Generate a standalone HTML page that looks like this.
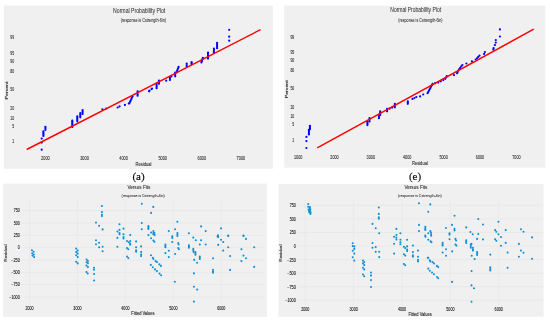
<!DOCTYPE html>
<html lang="en">
<head>
<meta charset="utf-8">
<title>Normal Probability Plot and Versus Fits</title>
<style>
html,body{margin:0;padding:0;background:#ffffff;}
body{width:550px;height:323px;overflow:hidden;font-family:"Liberation Sans",sans-serif;}
svg{display:block;}
</style>
</head>
<body>
<svg width="550" height="323" viewBox="0 0 550 323">
<defs><filter id="soft" x="-2%" y="-2%" width="104%" height="104%"><feGaussianBlur stdDeviation="0.4"/></filter></defs>
<rect x="0" y="0" width="550" height="323" fill="#ffffff"/>
<g filter="url(#soft)">
<rect x="-5" y="-5" width="560" height="333" fill="#ffffff"/>
<rect x="3.8" y="5.6" width="269.10" height="163.20" fill="#f0f0f0"/>
<rect x="284.2" y="5.6" width="261.00" height="162.10" fill="#f0f0f0"/>
<rect x="3.1" y="183.6" width="263.90" height="133.30" fill="#f0f0f0"/>
<rect x="278.4" y="184.0" width="265.20" height="132.80" fill="#f0f0f0"/>
<text x="139.20" y="12.50" font-size="7.0" text-anchor="middle" fill="#303030" font-family='"Liberation Sans", sans-serif' textLength="52.20" lengthAdjust="spacingAndGlyphs" stroke="#303030" stroke-width="0.04" >Normal Probability Plot</text>
<text x="143.40" y="22.30" font-size="4.5" text-anchor="middle" fill="#2c2c2c" font-family='"Liberation Sans", sans-serif' textLength="45.20" lengthAdjust="spacingAndGlyphs" stroke="#2c2c2c" stroke-width="0.05" >(response is Cstrength-6in)</text>
<text x="14.10" y="39.40" font-size="4.9" text-anchor="end" fill="#303030" font-family='"Liberation Sans", sans-serif' textLength="3.90" lengthAdjust="spacingAndGlyphs" stroke="#303030" stroke-width="0.1" >99</text>
<text x="14.10" y="54.60" font-size="4.9" text-anchor="end" fill="#303030" font-family='"Liberation Sans", sans-serif' textLength="3.90" lengthAdjust="spacingAndGlyphs" stroke="#303030" stroke-width="0.1" >95</text>
<text x="14.10" y="62.70" font-size="4.9" text-anchor="end" fill="#303030" font-family='"Liberation Sans", sans-serif' textLength="3.90" lengthAdjust="spacingAndGlyphs" stroke="#303030" stroke-width="0.1" >90</text>
<text x="14.10" y="72.50" font-size="4.9" text-anchor="end" fill="#303030" font-family='"Liberation Sans", sans-serif' textLength="3.90" lengthAdjust="spacingAndGlyphs" stroke="#303030" stroke-width="0.1" >80</text>
<text x="14.10" y="91.20" font-size="4.9" text-anchor="end" fill="#303030" font-family='"Liberation Sans", sans-serif' textLength="3.90" lengthAdjust="spacingAndGlyphs" stroke="#303030" stroke-width="0.1" >50</text>
<text x="14.10" y="109.90" font-size="4.9" text-anchor="end" fill="#303030" font-family='"Liberation Sans", sans-serif' textLength="3.90" lengthAdjust="spacingAndGlyphs" stroke="#303030" stroke-width="0.1" >20</text>
<text x="14.10" y="119.70" font-size="4.9" text-anchor="end" fill="#303030" font-family='"Liberation Sans", sans-serif' textLength="3.90" lengthAdjust="spacingAndGlyphs" stroke="#303030" stroke-width="0.1" >10</text>
<text x="14.10" y="127.80" font-size="4.9" text-anchor="end" fill="#303030" font-family='"Liberation Sans", sans-serif' textLength="1.95" lengthAdjust="spacingAndGlyphs" stroke="#303030" stroke-width="0.1" >5</text>
<text x="14.10" y="143.00" font-size="4.9" text-anchor="end" fill="#303030" font-family='"Liberation Sans", sans-serif' textLength="1.95" lengthAdjust="spacingAndGlyphs" stroke="#303030" stroke-width="0.1" >1</text>
<text x="45.40" y="160.30" font-size="4.9" text-anchor="middle" fill="#303030" font-family='"Liberation Sans", sans-serif' textLength="8.60" lengthAdjust="spacingAndGlyphs" stroke="#303030" stroke-width="0.1" >2000</text>
<text x="84.50" y="160.30" font-size="4.9" text-anchor="middle" fill="#303030" font-family='"Liberation Sans", sans-serif' textLength="8.60" lengthAdjust="spacingAndGlyphs" stroke="#303030" stroke-width="0.1" >3000</text>
<text x="123.60" y="160.30" font-size="4.9" text-anchor="middle" fill="#303030" font-family='"Liberation Sans", sans-serif' textLength="8.60" lengthAdjust="spacingAndGlyphs" stroke="#303030" stroke-width="0.1" >4000</text>
<text x="162.70" y="160.30" font-size="4.9" text-anchor="middle" fill="#303030" font-family='"Liberation Sans", sans-serif' textLength="8.60" lengthAdjust="spacingAndGlyphs" stroke="#303030" stroke-width="0.1" >5000</text>
<text x="201.80" y="160.30" font-size="4.9" text-anchor="middle" fill="#303030" font-family='"Liberation Sans", sans-serif' textLength="8.60" lengthAdjust="spacingAndGlyphs" stroke="#303030" stroke-width="0.1" >6000</text>
<text x="240.90" y="160.30" font-size="4.9" text-anchor="middle" fill="#303030" font-family='"Liberation Sans", sans-serif' textLength="8.60" lengthAdjust="spacingAndGlyphs" stroke="#303030" stroke-width="0.1" >7000</text>
<text x="143.50" y="165.80" font-size="4.9" text-anchor="middle" fill="#303030" font-family='"Liberation Sans", sans-serif' textLength="16.00" lengthAdjust="spacingAndGlyphs" stroke="#303030" stroke-width="0.1" >Residual</text>
<text x="7.80" y="90.50" font-size="4.0" text-anchor="middle" fill="#262626" font-family='"Liberation Sans", sans-serif' textLength="17.80" lengthAdjust="spacingAndGlyphs" transform="rotate(-90 7.80 90.50)" stroke="#262626" stroke-width="0.12" >Percent</text>
<circle cx="41.70" cy="149.70" r="1.1" fill="#0000ff"/>
<circle cx="41.70" cy="142.60" r="1.1" fill="#0000ff"/>
<circle cx="41.70" cy="138.60" r="1.1" fill="#0000ff"/>
<circle cx="43.40" cy="136.00" r="1.1" fill="#0000ff"/>
<circle cx="43.40" cy="134.82" r="1.1" fill="#0000ff"/>
<circle cx="43.40" cy="133.65" r="1.1" fill="#0000ff"/>
<circle cx="43.40" cy="132.48" r="1.1" fill="#0000ff"/>
<circle cx="43.40" cy="131.30" r="1.1" fill="#0000ff"/>
<circle cx="45.40" cy="130.00" r="1.1" fill="#0000ff"/>
<circle cx="45.40" cy="128.45" r="1.1" fill="#0000ff"/>
<circle cx="45.40" cy="126.90" r="1.1" fill="#0000ff"/>
<circle cx="72.30" cy="127.00" r="1.1" fill="#0000ff"/>
<circle cx="72.30" cy="125.74" r="1.1" fill="#0000ff"/>
<circle cx="72.30" cy="124.48" r="1.1" fill="#0000ff"/>
<circle cx="72.30" cy="123.22" r="1.1" fill="#0000ff"/>
<circle cx="72.30" cy="121.96" r="1.1" fill="#0000ff"/>
<circle cx="72.30" cy="120.70" r="1.1" fill="#0000ff"/>
<circle cx="77.30" cy="121.30" r="1.1" fill="#0000ff"/>
<circle cx="77.30" cy="120.05" r="1.1" fill="#0000ff"/>
<circle cx="77.30" cy="118.80" r="1.1" fill="#0000ff"/>
<circle cx="77.30" cy="117.55" r="1.1" fill="#0000ff"/>
<circle cx="77.30" cy="116.30" r="1.1" fill="#0000ff"/>
<circle cx="80.30" cy="117.30" r="1.1" fill="#0000ff"/>
<circle cx="80.30" cy="115.93" r="1.1" fill="#0000ff"/>
<circle cx="80.30" cy="114.57" r="1.1" fill="#0000ff"/>
<circle cx="80.30" cy="113.20" r="1.1" fill="#0000ff"/>
<circle cx="82.60" cy="114.00" r="1.1" fill="#0000ff"/>
<circle cx="82.60" cy="112.67" r="1.1" fill="#0000ff"/>
<circle cx="82.60" cy="111.33" r="1.1" fill="#0000ff"/>
<circle cx="82.60" cy="110.00" r="1.1" fill="#0000ff"/>
<circle cx="102.40" cy="109.40" r="1.1" fill="#0000ff"/>
<circle cx="106.20" cy="108.50" r="1.1" fill="#0000ff"/>
<circle cx="117.70" cy="107.50" r="1.1" fill="#0000ff"/>
<circle cx="119.60" cy="106.30" r="1.1" fill="#0000ff"/>
<circle cx="124.90" cy="104.90" r="1.1" fill="#0000ff"/>
<circle cx="128.80" cy="103.50" r="1.1" fill="#0000ff"/>
<circle cx="129.40" cy="103.30" r="1.1" fill="#0000ff"/>
<circle cx="130.02" cy="101.92" r="1.1" fill="#0000ff"/>
<circle cx="130.64" cy="100.54" r="1.1" fill="#0000ff"/>
<circle cx="131.26" cy="99.16" r="1.1" fill="#0000ff"/>
<circle cx="131.88" cy="97.78" r="1.1" fill="#0000ff"/>
<circle cx="132.50" cy="96.40" r="1.1" fill="#0000ff"/>
<circle cx="137.60" cy="95.70" r="1.1" fill="#0000ff"/>
<circle cx="137.60" cy="94.23" r="1.1" fill="#0000ff"/>
<circle cx="137.60" cy="92.77" r="1.1" fill="#0000ff"/>
<circle cx="137.60" cy="91.30" r="1.1" fill="#0000ff"/>
<circle cx="149.10" cy="91.30" r="1.1" fill="#0000ff"/>
<circle cx="149.50" cy="90.60" r="1.1" fill="#0000ff"/>
<circle cx="151.60" cy="89.10" r="1.1" fill="#0000ff"/>
<circle cx="152.00" cy="88.50" r="1.1" fill="#0000ff"/>
<circle cx="156.60" cy="88.20" r="1.1" fill="#0000ff"/>
<circle cx="156.60" cy="86.73" r="1.1" fill="#0000ff"/>
<circle cx="156.60" cy="85.27" r="1.1" fill="#0000ff"/>
<circle cx="156.60" cy="83.80" r="1.1" fill="#0000ff"/>
<circle cx="158.90" cy="83.80" r="1.1" fill="#0000ff"/>
<circle cx="158.90" cy="82.25" r="1.1" fill="#0000ff"/>
<circle cx="158.90" cy="80.70" r="1.1" fill="#0000ff"/>
<circle cx="166.20" cy="80.70" r="1.1" fill="#0000ff"/>
<circle cx="169.90" cy="80.00" r="1.1" fill="#0000ff"/>
<circle cx="169.90" cy="78.75" r="1.1" fill="#0000ff"/>
<circle cx="169.90" cy="77.50" r="1.1" fill="#0000ff"/>
<circle cx="171.40" cy="76.50" r="1.1" fill="#0000ff"/>
<circle cx="175.20" cy="76.30" r="1.1" fill="#0000ff"/>
<circle cx="175.20" cy="75.03" r="1.1" fill="#0000ff"/>
<circle cx="175.20" cy="73.77" r="1.1" fill="#0000ff"/>
<circle cx="175.20" cy="72.50" r="1.1" fill="#0000ff"/>
<circle cx="176.60" cy="72.30" r="1.1" fill="#0000ff"/>
<circle cx="177.10" cy="70.95" r="1.1" fill="#0000ff"/>
<circle cx="177.60" cy="69.60" r="1.1" fill="#0000ff"/>
<circle cx="178.10" cy="68.25" r="1.1" fill="#0000ff"/>
<circle cx="178.60" cy="66.90" r="1.1" fill="#0000ff"/>
<circle cx="186.70" cy="66.40" r="1.1" fill="#0000ff"/>
<circle cx="186.70" cy="65.00" r="1.1" fill="#0000ff"/>
<circle cx="186.70" cy="63.60" r="1.1" fill="#0000ff"/>
<circle cx="191.60" cy="64.10" r="1.1" fill="#0000ff"/>
<circle cx="191.60" cy="63.05" r="1.1" fill="#0000ff"/>
<circle cx="191.60" cy="62.00" r="1.1" fill="#0000ff"/>
<circle cx="201.40" cy="62.40" r="1.1" fill="#0000ff"/>
<circle cx="201.78" cy="61.25" r="1.1" fill="#0000ff"/>
<circle cx="202.15" cy="60.10" r="1.1" fill="#0000ff"/>
<circle cx="202.53" cy="58.95" r="1.1" fill="#0000ff"/>
<circle cx="202.90" cy="57.80" r="1.1" fill="#0000ff"/>
<circle cx="208.00" cy="58.60" r="1.1" fill="#0000ff"/>
<circle cx="208.00" cy="57.40" r="1.1" fill="#0000ff"/>
<circle cx="208.00" cy="56.20" r="1.1" fill="#0000ff"/>
<circle cx="208.00" cy="55.00" r="1.1" fill="#0000ff"/>
<circle cx="208.00" cy="53.80" r="1.1" fill="#0000ff"/>
<circle cx="208.00" cy="52.60" r="1.1" fill="#0000ff"/>
<circle cx="213.90" cy="52.60" r="1.1" fill="#0000ff"/>
<circle cx="213.90" cy="51.27" r="1.1" fill="#0000ff"/>
<circle cx="213.90" cy="49.93" r="1.1" fill="#0000ff"/>
<circle cx="213.90" cy="48.60" r="1.1" fill="#0000ff"/>
<circle cx="217.10" cy="48.20" r="1.1" fill="#0000ff"/>
<circle cx="217.10" cy="46.85" r="1.1" fill="#0000ff"/>
<circle cx="217.10" cy="45.50" r="1.1" fill="#0000ff"/>
<circle cx="217.10" cy="44.15" r="1.1" fill="#0000ff"/>
<circle cx="217.10" cy="42.80" r="1.1" fill="#0000ff"/>
<circle cx="229.20" cy="40.70" r="1.1" fill="#0000ff"/>
<circle cx="229.20" cy="36.70" r="1.1" fill="#0000ff"/>
<circle cx="229.20" cy="29.80" r="1.1" fill="#0000ff"/>
<line x1="26.7" y1="149.5" x2="260.5" y2="29.7" stroke="#ff0000" stroke-width="1.45"/>
<text x="415.70" y="12.20" font-size="7.0" text-anchor="middle" fill="#303030" font-family='"Liberation Sans", sans-serif' textLength="50.80" lengthAdjust="spacingAndGlyphs" stroke="#303030" stroke-width="0.04" >Normal Probability Plot</text>
<text x="420.40" y="21.70" font-size="4.5" text-anchor="middle" fill="#2c2c2c" font-family='"Liberation Sans", sans-serif' textLength="44.30" lengthAdjust="spacingAndGlyphs" stroke="#2c2c2c" stroke-width="0.05" >(response is Cstrength-6in)</text>
<text x="294.30" y="39.00" font-size="4.9" text-anchor="end" fill="#303030" font-family='"Liberation Sans", sans-serif' textLength="3.90" lengthAdjust="spacingAndGlyphs" stroke="#303030" stroke-width="0.1" >99</text>
<text x="294.30" y="53.90" font-size="4.9" text-anchor="end" fill="#303030" font-family='"Liberation Sans", sans-serif' textLength="3.90" lengthAdjust="spacingAndGlyphs" stroke="#303030" stroke-width="0.1" >95</text>
<text x="294.30" y="61.90" font-size="4.9" text-anchor="end" fill="#303030" font-family='"Liberation Sans", sans-serif' textLength="3.90" lengthAdjust="spacingAndGlyphs" stroke="#303030" stroke-width="0.1" >90</text>
<text x="294.30" y="71.60" font-size="4.9" text-anchor="end" fill="#303030" font-family='"Liberation Sans", sans-serif' textLength="3.90" lengthAdjust="spacingAndGlyphs" stroke="#303030" stroke-width="0.1" >80</text>
<text x="294.30" y="90.00" font-size="4.9" text-anchor="end" fill="#303030" font-family='"Liberation Sans", sans-serif' textLength="3.90" lengthAdjust="spacingAndGlyphs" stroke="#303030" stroke-width="0.1" >50</text>
<text x="294.30" y="108.60" font-size="4.9" text-anchor="end" fill="#303030" font-family='"Liberation Sans", sans-serif' textLength="3.90" lengthAdjust="spacingAndGlyphs" stroke="#303030" stroke-width="0.1" >20</text>
<text x="294.30" y="118.20" font-size="4.9" text-anchor="end" fill="#303030" font-family='"Liberation Sans", sans-serif' textLength="3.90" lengthAdjust="spacingAndGlyphs" stroke="#303030" stroke-width="0.1" >10</text>
<text x="294.30" y="126.30" font-size="4.9" text-anchor="end" fill="#303030" font-family='"Liberation Sans", sans-serif' textLength="1.95" lengthAdjust="spacingAndGlyphs" stroke="#303030" stroke-width="0.1" >5</text>
<text x="294.30" y="141.50" font-size="4.9" text-anchor="end" fill="#303030" font-family='"Liberation Sans", sans-serif' textLength="1.95" lengthAdjust="spacingAndGlyphs" stroke="#303030" stroke-width="0.1" >1</text>
<text x="298.20" y="159.30" font-size="4.9" text-anchor="middle" fill="#303030" font-family='"Liberation Sans", sans-serif' textLength="8.40" lengthAdjust="spacingAndGlyphs" stroke="#303030" stroke-width="0.1" >1000</text>
<text x="334.50" y="159.30" font-size="4.9" text-anchor="middle" fill="#303030" font-family='"Liberation Sans", sans-serif' textLength="8.40" lengthAdjust="spacingAndGlyphs" stroke="#303030" stroke-width="0.1" >2000</text>
<text x="370.80" y="159.30" font-size="4.9" text-anchor="middle" fill="#303030" font-family='"Liberation Sans", sans-serif' textLength="8.40" lengthAdjust="spacingAndGlyphs" stroke="#303030" stroke-width="0.1" >3000</text>
<text x="407.20" y="159.30" font-size="4.9" text-anchor="middle" fill="#303030" font-family='"Liberation Sans", sans-serif' textLength="8.40" lengthAdjust="spacingAndGlyphs" stroke="#303030" stroke-width="0.1" >4000</text>
<text x="443.60" y="159.30" font-size="4.9" text-anchor="middle" fill="#303030" font-family='"Liberation Sans", sans-serif' textLength="8.40" lengthAdjust="spacingAndGlyphs" stroke="#303030" stroke-width="0.1" >5000</text>
<text x="480.00" y="159.30" font-size="4.9" text-anchor="middle" fill="#303030" font-family='"Liberation Sans", sans-serif' textLength="8.40" lengthAdjust="spacingAndGlyphs" stroke="#303030" stroke-width="0.1" >6000</text>
<text x="516.40" y="159.30" font-size="4.9" text-anchor="middle" fill="#303030" font-family='"Liberation Sans", sans-serif' textLength="8.40" lengthAdjust="spacingAndGlyphs" stroke="#303030" stroke-width="0.1" >7000</text>
<text x="419.90" y="164.50" font-size="4.9" text-anchor="middle" fill="#303030" font-family='"Liberation Sans", sans-serif' textLength="15.80" lengthAdjust="spacingAndGlyphs" stroke="#303030" stroke-width="0.1" >Residual</text>
<text x="288.30" y="89.30" font-size="4.0" text-anchor="middle" fill="#262626" font-family='"Liberation Sans", sans-serif' textLength="17.80" lengthAdjust="spacingAndGlyphs" transform="rotate(-90 288.30 89.30)" stroke="#262626" stroke-width="0.12" >Percent</text>
<circle cx="306.40" cy="148.00" r="1.1" fill="#0000ff"/>
<circle cx="306.40" cy="141.10" r="1.1" fill="#0000ff"/>
<circle cx="306.40" cy="136.90" r="1.1" fill="#0000ff"/>
<circle cx="308.90" cy="134.40" r="1.1" fill="#0000ff"/>
<circle cx="308.90" cy="133.25" r="1.1" fill="#0000ff"/>
<circle cx="308.90" cy="132.10" r="1.1" fill="#0000ff"/>
<circle cx="308.90" cy="130.95" r="1.1" fill="#0000ff"/>
<circle cx="308.90" cy="129.80" r="1.1" fill="#0000ff"/>
<circle cx="309.90" cy="129.20" r="1.1" fill="#0000ff"/>
<circle cx="309.90" cy="128.07" r="1.1" fill="#0000ff"/>
<circle cx="309.90" cy="126.93" r="1.1" fill="#0000ff"/>
<circle cx="309.90" cy="125.80" r="1.1" fill="#0000ff"/>
<circle cx="367.40" cy="125.10" r="1.1" fill="#0000ff"/>
<circle cx="367.40" cy="123.87" r="1.1" fill="#0000ff"/>
<circle cx="367.40" cy="122.63" r="1.1" fill="#0000ff"/>
<circle cx="367.40" cy="121.40" r="1.1" fill="#0000ff"/>
<circle cx="369.50" cy="121.40" r="1.1" fill="#0000ff"/>
<circle cx="369.50" cy="119.80" r="1.1" fill="#0000ff"/>
<circle cx="369.50" cy="118.20" r="1.1" fill="#0000ff"/>
<circle cx="378.90" cy="118.20" r="1.1" fill="#0000ff"/>
<circle cx="378.90" cy="116.65" r="1.1" fill="#0000ff"/>
<circle cx="378.90" cy="115.10" r="1.1" fill="#0000ff"/>
<circle cx="380.20" cy="115.10" r="1.1" fill="#0000ff"/>
<circle cx="380.20" cy="113.83" r="1.1" fill="#0000ff"/>
<circle cx="380.20" cy="112.57" r="1.1" fill="#0000ff"/>
<circle cx="380.20" cy="111.30" r="1.1" fill="#0000ff"/>
<circle cx="387.10" cy="111.30" r="1.1" fill="#0000ff"/>
<circle cx="387.10" cy="110.05" r="1.1" fill="#0000ff"/>
<circle cx="387.10" cy="108.80" r="1.1" fill="#0000ff"/>
<circle cx="389.60" cy="108.60" r="1.1" fill="#0000ff"/>
<circle cx="392.10" cy="107.60" r="1.1" fill="#0000ff"/>
<circle cx="394.80" cy="107.30" r="1.1" fill="#0000ff"/>
<circle cx="394.80" cy="106.13" r="1.1" fill="#0000ff"/>
<circle cx="394.80" cy="104.97" r="1.1" fill="#0000ff"/>
<circle cx="394.80" cy="103.80" r="1.1" fill="#0000ff"/>
<circle cx="407.80" cy="103.80" r="1.1" fill="#0000ff"/>
<circle cx="407.80" cy="102.55" r="1.1" fill="#0000ff"/>
<circle cx="407.80" cy="101.30" r="1.1" fill="#0000ff"/>
<circle cx="412.50" cy="98.90" r="1.1" fill="#0000ff"/>
<circle cx="414.40" cy="98.00" r="1.1" fill="#0000ff"/>
<circle cx="416.30" cy="97.00" r="1.1" fill="#0000ff"/>
<circle cx="420.10" cy="96.40" r="1.1" fill="#0000ff"/>
<circle cx="423.20" cy="94.50" r="1.1" fill="#0000ff"/>
<circle cx="427.60" cy="93.20" r="1.1" fill="#0000ff"/>
<circle cx="428.31" cy="91.86" r="1.1" fill="#0000ff"/>
<circle cx="429.03" cy="90.51" r="1.1" fill="#0000ff"/>
<circle cx="429.74" cy="89.17" r="1.1" fill="#0000ff"/>
<circle cx="430.46" cy="87.83" r="1.1" fill="#0000ff"/>
<circle cx="431.17" cy="86.49" r="1.1" fill="#0000ff"/>
<circle cx="431.89" cy="85.14" r="1.1" fill="#0000ff"/>
<circle cx="432.60" cy="83.80" r="1.1" fill="#0000ff"/>
<circle cx="435.10" cy="83.20" r="1.1" fill="#0000ff"/>
<circle cx="438.30" cy="82.60" r="1.1" fill="#0000ff"/>
<circle cx="440.80" cy="81.30" r="1.1" fill="#0000ff"/>
<circle cx="443.30" cy="80.10" r="1.1" fill="#0000ff"/>
<circle cx="445.20" cy="78.80" r="1.1" fill="#0000ff"/>
<circle cx="446.20" cy="77.40" r="1.1" fill="#0000ff"/>
<circle cx="446.80" cy="76.10" r="1.1" fill="#0000ff"/>
<circle cx="454.00" cy="75.10" r="1.1" fill="#0000ff"/>
<circle cx="457.10" cy="73.20" r="1.1" fill="#0000ff"/>
<circle cx="457.70" cy="71.90" r="1.1" fill="#0000ff"/>
<circle cx="459.00" cy="69.40" r="1.1" fill="#0000ff"/>
<circle cx="460.13" cy="67.93" r="1.1" fill="#0000ff"/>
<circle cx="461.27" cy="66.47" r="1.1" fill="#0000ff"/>
<circle cx="462.40" cy="65.00" r="1.1" fill="#0000ff"/>
<circle cx="466.40" cy="63.50" r="1.1" fill="#0000ff"/>
<circle cx="471.90" cy="61.40" r="1.1" fill="#0000ff"/>
<circle cx="475.70" cy="59.50" r="1.1" fill="#0000ff"/>
<circle cx="476.97" cy="58.23" r="1.1" fill="#0000ff"/>
<circle cx="478.23" cy="56.97" r="1.1" fill="#0000ff"/>
<circle cx="479.50" cy="55.70" r="1.1" fill="#0000ff"/>
<circle cx="484.10" cy="53.90" r="1.1" fill="#0000ff"/>
<circle cx="484.90" cy="52.00" r="1.1" fill="#0000ff"/>
<circle cx="493.30" cy="49.50" r="1.1" fill="#0000ff"/>
<circle cx="493.60" cy="48.20" r="1.1" fill="#0000ff"/>
<circle cx="494.90" cy="45.10" r="1.1" fill="#0000ff"/>
<circle cx="495.80" cy="42.60" r="1.1" fill="#0000ff"/>
<circle cx="495.80" cy="40.10" r="1.1" fill="#0000ff"/>
<circle cx="499.90" cy="36.50" r="1.1" fill="#0000ff"/>
<circle cx="499.90" cy="29.40" r="1.1" fill="#0000ff"/>
<line x1="317.2" y1="147.8" x2="533.7" y2="29.2" stroke="#ff0000" stroke-width="1.45"/>
<line x1="21.0" y1="210.6" x2="264.8" y2="210.6" stroke="#e8e8e8" stroke-width="0.9"/>
<line x1="21.0" y1="222.95" x2="264.8" y2="222.95" stroke="#e8e8e8" stroke-width="0.9"/>
<line x1="21.0" y1="235.3" x2="264.8" y2="235.3" stroke="#e8e8e8" stroke-width="0.9"/>
<line x1="21.0" y1="247.65" x2="264.8" y2="247.65" stroke="#e8e8e8" stroke-width="0.9"/>
<line x1="21.0" y1="260.0" x2="264.8" y2="260.0" stroke="#e8e8e8" stroke-width="0.9"/>
<line x1="21.0" y1="272.3" x2="264.8" y2="272.3" stroke="#e8e8e8" stroke-width="0.9"/>
<line x1="21.0" y1="284.6" x2="264.8" y2="284.6" stroke="#e8e8e8" stroke-width="0.9"/>
<line x1="21.0" y1="297.0" x2="264.8" y2="297.0" stroke="#e8e8e8" stroke-width="0.9"/>
<line x1="29.5" y1="199.5" x2="29.5" y2="304.3" stroke="#e8e8e8" stroke-width="0.9"/>
<line x1="77.45" y1="199.5" x2="77.45" y2="304.3" stroke="#e8e8e8" stroke-width="0.9"/>
<line x1="125.4" y1="199.5" x2="125.4" y2="304.3" stroke="#e8e8e8" stroke-width="0.9"/>
<line x1="173.4" y1="199.5" x2="173.4" y2="304.3" stroke="#e8e8e8" stroke-width="0.9"/>
<line x1="221.3" y1="199.5" x2="221.3" y2="304.3" stroke="#e8e8e8" stroke-width="0.9"/>
<text x="138.90" y="189.40" font-size="5.8" text-anchor="middle" fill="#303030" font-family='"Liberation Sans", sans-serif' textLength="23.00" lengthAdjust="spacingAndGlyphs" stroke="#303030" stroke-width="0.1" >Versus Fits</text>
<text x="143.10" y="197.30" font-size="4.0" text-anchor="middle" fill="#2c2c2c" font-family='"Liberation Sans", sans-serif' textLength="43.20" lengthAdjust="spacingAndGlyphs" stroke="#2c2c2c" stroke-width="0.05" >(response is Cstrength-6in)</text>
<text x="19.80" y="212.30" font-size="4.9" text-anchor="end" fill="#222" font-family='"Liberation Sans", sans-serif' textLength="6.00" lengthAdjust="spacingAndGlyphs" stroke="#222" stroke-width="0.12" >750</text>
<text x="19.80" y="224.65" font-size="4.9" text-anchor="end" fill="#222" font-family='"Liberation Sans", sans-serif' textLength="6.00" lengthAdjust="spacingAndGlyphs" stroke="#222" stroke-width="0.12" >500</text>
<text x="19.80" y="237.00" font-size="4.9" text-anchor="end" fill="#222" font-family='"Liberation Sans", sans-serif' textLength="6.00" lengthAdjust="spacingAndGlyphs" stroke="#222" stroke-width="0.12" >250</text>
<text x="19.80" y="249.35" font-size="4.9" text-anchor="end" fill="#222" font-family='"Liberation Sans", sans-serif' textLength="2.00" lengthAdjust="spacingAndGlyphs" stroke="#222" stroke-width="0.12" >0</text>
<text x="19.80" y="261.70" font-size="4.9" text-anchor="end" fill="#222" font-family='"Liberation Sans", sans-serif' textLength="8.60" lengthAdjust="spacingAndGlyphs" stroke="#222" stroke-width="0.12" >−250</text>
<text x="19.80" y="274.00" font-size="4.9" text-anchor="end" fill="#222" font-family='"Liberation Sans", sans-serif' textLength="8.60" lengthAdjust="spacingAndGlyphs" stroke="#222" stroke-width="0.12" >−500</text>
<text x="19.80" y="286.30" font-size="4.9" text-anchor="end" fill="#222" font-family='"Liberation Sans", sans-serif' textLength="8.60" lengthAdjust="spacingAndGlyphs" stroke="#222" stroke-width="0.12" >−750</text>
<text x="19.80" y="298.70" font-size="4.9" text-anchor="end" fill="#222" font-family='"Liberation Sans", sans-serif' textLength="10.60" lengthAdjust="spacingAndGlyphs" stroke="#222" stroke-width="0.12" >−1000</text>
<text x="29.50" y="310.40" font-size="4.9" text-anchor="middle" fill="#222" font-family='"Liberation Sans", sans-serif' textLength="8.20" lengthAdjust="spacingAndGlyphs" stroke="#222" stroke-width="0.12" >2000</text>
<text x="77.45" y="310.40" font-size="4.9" text-anchor="middle" fill="#222" font-family='"Liberation Sans", sans-serif' textLength="8.20" lengthAdjust="spacingAndGlyphs" stroke="#222" stroke-width="0.12" >3000</text>
<text x="125.40" y="310.40" font-size="4.9" text-anchor="middle" fill="#222" font-family='"Liberation Sans", sans-serif' textLength="8.20" lengthAdjust="spacingAndGlyphs" stroke="#222" stroke-width="0.12" >4000</text>
<text x="173.40" y="310.40" font-size="4.9" text-anchor="middle" fill="#222" font-family='"Liberation Sans", sans-serif' textLength="8.20" lengthAdjust="spacingAndGlyphs" stroke="#222" stroke-width="0.12" >5000</text>
<text x="221.30" y="310.40" font-size="4.9" text-anchor="middle" fill="#222" font-family='"Liberation Sans", sans-serif' textLength="8.20" lengthAdjust="spacingAndGlyphs" stroke="#222" stroke-width="0.12" >6000</text>
<text x="142.90" y="315.40" font-size="4.9" text-anchor="middle" fill="#222" font-family='"Liberation Sans", sans-serif' textLength="23.20" lengthAdjust="spacingAndGlyphs" stroke="#222" stroke-width="0.1" >Fitted Values</text>
<text x="6.90" y="253.00" font-size="4.3" text-anchor="middle" fill="#262626" font-family='"Liberation Sans", sans-serif' textLength="16.80" lengthAdjust="spacingAndGlyphs" transform="rotate(-90 6.90 253.00)" stroke="#262626" stroke-width="0.1" >Residual</text>
<circle cx="101.90" cy="206.00" r="1.03" fill="#0f8fd8"/>
<circle cx="101.90" cy="212.10" r="1.03" fill="#0f8fd8"/>
<circle cx="101.90" cy="214.80" r="1.03" fill="#0f8fd8"/>
<circle cx="101.90" cy="216.10" r="1.03" fill="#0f8fd8"/>
<circle cx="96.00" cy="222.60" r="1.03" fill="#0f8fd8"/>
<circle cx="99.10" cy="225.70" r="1.03" fill="#0f8fd8"/>
<circle cx="102.60" cy="229.40" r="1.03" fill="#0f8fd8"/>
<circle cx="119.50" cy="224.20" r="1.03" fill="#0f8fd8"/>
<circle cx="119.50" cy="229.90" r="1.03" fill="#0f8fd8"/>
<circle cx="117.40" cy="231.50" r="1.03" fill="#0f8fd8"/>
<circle cx="119.50" cy="233.00" r="1.03" fill="#0f8fd8"/>
<circle cx="119.50" cy="234.30" r="1.03" fill="#0f8fd8"/>
<circle cx="123.50" cy="228.60" r="1.03" fill="#0f8fd8"/>
<circle cx="123.50" cy="234.30" r="1.03" fill="#0f8fd8"/>
<circle cx="130.20" cy="235.10" r="1.03" fill="#0f8fd8"/>
<circle cx="141.80" cy="203.70" r="1.03" fill="#0f8fd8"/>
<circle cx="153.30" cy="206.90" r="1.03" fill="#0f8fd8"/>
<circle cx="151.10" cy="212.90" r="1.03" fill="#0f8fd8"/>
<circle cx="141.80" cy="223.00" r="1.03" fill="#0f8fd8"/>
<circle cx="141.80" cy="229.20" r="1.03" fill="#0f8fd8"/>
<circle cx="148.40" cy="226.10" r="1.03" fill="#0f8fd8"/>
<circle cx="148.40" cy="227.40" r="1.03" fill="#0f8fd8"/>
<circle cx="148.40" cy="228.90" r="1.03" fill="#0f8fd8"/>
<circle cx="151.10" cy="232.60" r="1.03" fill="#0f8fd8"/>
<circle cx="153.40" cy="231.10" r="1.03" fill="#0f8fd8"/>
<circle cx="153.40" cy="233.00" r="1.03" fill="#0f8fd8"/>
<circle cx="153.40" cy="234.30" r="1.03" fill="#0f8fd8"/>
<circle cx="148.40" cy="235.10" r="1.03" fill="#0f8fd8"/>
<circle cx="154.40" cy="233.00" r="1.03" fill="#0f8fd8"/>
<circle cx="154.60" cy="235.10" r="1.03" fill="#0f8fd8"/>
<circle cx="177.40" cy="221.70" r="1.03" fill="#0f8fd8"/>
<circle cx="201.10" cy="226.40" r="1.03" fill="#0f8fd8"/>
<circle cx="175.10" cy="229.20" r="1.03" fill="#0f8fd8"/>
<circle cx="168.80" cy="231.10" r="1.03" fill="#0f8fd8"/>
<circle cx="205.70" cy="231.10" r="1.03" fill="#0f8fd8"/>
<circle cx="177.40" cy="233.00" r="1.03" fill="#0f8fd8"/>
<circle cx="177.40" cy="234.60" r="1.03" fill="#0f8fd8"/>
<circle cx="188.90" cy="233.30" r="1.03" fill="#0f8fd8"/>
<circle cx="218.00" cy="235.30" r="1.03" fill="#0f8fd8"/>
<circle cx="221.00" cy="228.40" r="1.03" fill="#0f8fd8"/>
<circle cx="228.20" cy="235.50" r="1.03" fill="#0f8fd8"/>
<circle cx="243.50" cy="235.50" r="1.03" fill="#0f8fd8"/>
<circle cx="31.90" cy="250.20" r="1.03" fill="#0f8fd8"/>
<circle cx="33.60" cy="251.80" r="1.03" fill="#0f8fd8"/>
<circle cx="32.20" cy="253.30" r="1.03" fill="#0f8fd8"/>
<circle cx="33.80" cy="254.60" r="1.03" fill="#0f8fd8"/>
<circle cx="32.50" cy="255.60" r="1.03" fill="#0f8fd8"/>
<circle cx="34.10" cy="257.10" r="1.03" fill="#0f8fd8"/>
<circle cx="76.20" cy="248.60" r="1.03" fill="#0f8fd8"/>
<circle cx="77.70" cy="250.60" r="1.03" fill="#0f8fd8"/>
<circle cx="76.20" cy="252.10" r="1.03" fill="#0f8fd8"/>
<circle cx="77.70" cy="253.60" r="1.03" fill="#0f8fd8"/>
<circle cx="76.20" cy="255.20" r="1.03" fill="#0f8fd8"/>
<circle cx="77.70" cy="257.10" r="1.03" fill="#0f8fd8"/>
<circle cx="76.20" cy="261.70" r="1.03" fill="#0f8fd8"/>
<circle cx="77.70" cy="263.40" r="1.03" fill="#0f8fd8"/>
<circle cx="86.60" cy="259.60" r="1.03" fill="#0f8fd8"/>
<circle cx="87.90" cy="261.00" r="1.03" fill="#0f8fd8"/>
<circle cx="86.60" cy="262.30" r="1.03" fill="#0f8fd8"/>
<circle cx="87.90" cy="263.30" r="1.03" fill="#0f8fd8"/>
<circle cx="86.40" cy="265.60" r="1.03" fill="#0f8fd8"/>
<circle cx="87.90" cy="267.10" r="1.03" fill="#0f8fd8"/>
<circle cx="86.50" cy="272.00" r="1.03" fill="#0f8fd8"/>
<circle cx="87.70" cy="273.50" r="1.03" fill="#0f8fd8"/>
<circle cx="94.00" cy="267.80" r="1.03" fill="#0f8fd8"/>
<circle cx="94.00" cy="269.70" r="1.03" fill="#0f8fd8"/>
<circle cx="94.10" cy="274.00" r="1.03" fill="#0f8fd8"/>
<circle cx="94.10" cy="280.50" r="1.03" fill="#0f8fd8"/>
<circle cx="117.40" cy="237.90" r="1.03" fill="#0f8fd8"/>
<circle cx="123.50" cy="237.00" r="1.03" fill="#0f8fd8"/>
<circle cx="123.50" cy="238.50" r="1.03" fill="#0f8fd8"/>
<circle cx="96.00" cy="240.20" r="1.03" fill="#0f8fd8"/>
<circle cx="99.10" cy="242.70" r="1.03" fill="#0f8fd8"/>
<circle cx="96.00" cy="244.30" r="1.03" fill="#0f8fd8"/>
<circle cx="99.10" cy="247.30" r="1.03" fill="#0f8fd8"/>
<circle cx="102.60" cy="246.80" r="1.03" fill="#0f8fd8"/>
<circle cx="102.60" cy="251.20" r="1.03" fill="#0f8fd8"/>
<circle cx="117.40" cy="246.80" r="1.03" fill="#0f8fd8"/>
<circle cx="127.00" cy="241.00" r="1.03" fill="#0f8fd8"/>
<circle cx="128.70" cy="242.30" r="1.03" fill="#0f8fd8"/>
<circle cx="130.20" cy="241.00" r="1.03" fill="#0f8fd8"/>
<circle cx="130.20" cy="243.50" r="1.03" fill="#0f8fd8"/>
<circle cx="130.20" cy="244.80" r="1.03" fill="#0f8fd8"/>
<circle cx="136.10" cy="241.40" r="1.03" fill="#0f8fd8"/>
<circle cx="127.00" cy="248.10" r="1.03" fill="#0f8fd8"/>
<circle cx="128.30" cy="249.30" r="1.03" fill="#0f8fd8"/>
<circle cx="136.10" cy="247.30" r="1.03" fill="#0f8fd8"/>
<circle cx="136.10" cy="250.20" r="1.03" fill="#0f8fd8"/>
<circle cx="136.10" cy="251.80" r="1.03" fill="#0f8fd8"/>
<circle cx="141.10" cy="246.40" r="1.03" fill="#0f8fd8"/>
<circle cx="141.10" cy="252.10" r="1.03" fill="#0f8fd8"/>
<circle cx="141.10" cy="254.60" r="1.03" fill="#0f8fd8"/>
<circle cx="141.10" cy="256.10" r="1.03" fill="#0f8fd8"/>
<circle cx="127.00" cy="256.50" r="1.03" fill="#0f8fd8"/>
<circle cx="128.30" cy="258.10" r="1.03" fill="#0f8fd8"/>
<circle cx="151.10" cy="238.30" r="1.03" fill="#0f8fd8"/>
<circle cx="153.40" cy="240.60" r="1.03" fill="#0f8fd8"/>
<circle cx="154.40" cy="241.80" r="1.03" fill="#0f8fd8"/>
<circle cx="151.00" cy="255.20" r="1.03" fill="#0f8fd8"/>
<circle cx="152.80" cy="257.70" r="1.03" fill="#0f8fd8"/>
<circle cx="153.50" cy="259.00" r="1.03" fill="#0f8fd8"/>
<circle cx="155.60" cy="261.10" r="1.03" fill="#0f8fd8"/>
<circle cx="156.90" cy="262.10" r="1.03" fill="#0f8fd8"/>
<circle cx="159.40" cy="264.40" r="1.03" fill="#0f8fd8"/>
<circle cx="161.00" cy="265.90" r="1.03" fill="#0f8fd8"/>
<circle cx="150.80" cy="264.90" r="1.03" fill="#0f8fd8"/>
<circle cx="152.80" cy="267.30" r="1.03" fill="#0f8fd8"/>
<circle cx="155.00" cy="269.40" r="1.03" fill="#0f8fd8"/>
<circle cx="156.90" cy="271.10" r="1.03" fill="#0f8fd8"/>
<circle cx="159.50" cy="273.60" r="1.03" fill="#0f8fd8"/>
<circle cx="161.10" cy="275.30" r="1.03" fill="#0f8fd8"/>
<circle cx="177.40" cy="236.00" r="1.03" fill="#0f8fd8"/>
<circle cx="172.30" cy="236.40" r="1.03" fill="#0f8fd8"/>
<circle cx="172.30" cy="238.00" r="1.03" fill="#0f8fd8"/>
<circle cx="172.30" cy="242.00" r="1.03" fill="#0f8fd8"/>
<circle cx="193.30" cy="237.60" r="1.03" fill="#0f8fd8"/>
<circle cx="195.80" cy="240.20" r="1.03" fill="#0f8fd8"/>
<circle cx="201.10" cy="240.20" r="1.03" fill="#0f8fd8"/>
<circle cx="218.20" cy="237.00" r="1.03" fill="#0f8fd8"/>
<circle cx="178.20" cy="243.00" r="1.03" fill="#0f8fd8"/>
<circle cx="178.60" cy="244.50" r="1.03" fill="#0f8fd8"/>
<circle cx="165.40" cy="244.50" r="1.03" fill="#0f8fd8"/>
<circle cx="165.40" cy="246.10" r="1.03" fill="#0f8fd8"/>
<circle cx="165.40" cy="247.30" r="1.03" fill="#0f8fd8"/>
<circle cx="178.20" cy="248.10" r="1.03" fill="#0f8fd8"/>
<circle cx="178.90" cy="249.30" r="1.03" fill="#0f8fd8"/>
<circle cx="188.90" cy="245.20" r="1.03" fill="#0f8fd8"/>
<circle cx="188.90" cy="246.40" r="1.03" fill="#0f8fd8"/>
<circle cx="188.90" cy="247.70" r="1.03" fill="#0f8fd8"/>
<circle cx="199.80" cy="244.50" r="1.03" fill="#0f8fd8"/>
<circle cx="205.70" cy="244.50" r="1.03" fill="#0f8fd8"/>
<circle cx="218.20" cy="244.90" r="1.03" fill="#0f8fd8"/>
<circle cx="168.80" cy="250.80" r="1.03" fill="#0f8fd8"/>
<circle cx="165.40" cy="253.10" r="1.03" fill="#0f8fd8"/>
<circle cx="175.10" cy="254.00" r="1.03" fill="#0f8fd8"/>
<circle cx="168.80" cy="257.10" r="1.03" fill="#0f8fd8"/>
<circle cx="193.30" cy="248.90" r="1.03" fill="#0f8fd8"/>
<circle cx="193.30" cy="250.60" r="1.03" fill="#0f8fd8"/>
<circle cx="193.60" cy="252.10" r="1.03" fill="#0f8fd8"/>
<circle cx="195.40" cy="252.10" r="1.03" fill="#0f8fd8"/>
<circle cx="195.40" cy="253.60" r="1.03" fill="#0f8fd8"/>
<circle cx="195.40" cy="254.80" r="1.03" fill="#0f8fd8"/>
<circle cx="199.80" cy="256.50" r="1.03" fill="#0f8fd8"/>
<circle cx="199.80" cy="257.70" r="1.03" fill="#0f8fd8"/>
<circle cx="199.80" cy="259.00" r="1.03" fill="#0f8fd8"/>
<circle cx="194.20" cy="259.90" r="1.03" fill="#0f8fd8"/>
<circle cx="197.10" cy="262.70" r="1.03" fill="#0f8fd8"/>
<circle cx="213.00" cy="258.30" r="1.03" fill="#0f8fd8"/>
<circle cx="213.00" cy="269.70" r="1.03" fill="#0f8fd8"/>
<circle cx="213.00" cy="271.20" r="1.03" fill="#0f8fd8"/>
<circle cx="213.00" cy="272.70" r="1.03" fill="#0f8fd8"/>
<circle cx="217.60" cy="236.40" r="1.03" fill="#0f8fd8"/>
<circle cx="221.00" cy="239.80" r="1.03" fill="#0f8fd8"/>
<circle cx="223.20" cy="242.00" r="1.03" fill="#0f8fd8"/>
<circle cx="228.20" cy="236.00" r="1.03" fill="#0f8fd8"/>
<circle cx="243.50" cy="236.00" r="1.03" fill="#0f8fd8"/>
<circle cx="246.00" cy="238.90" r="1.03" fill="#0f8fd8"/>
<circle cx="228.20" cy="247.30" r="1.03" fill="#0f8fd8"/>
<circle cx="254.20" cy="247.30" r="1.03" fill="#0f8fd8"/>
<circle cx="223.20" cy="250.60" r="1.03" fill="#0f8fd8"/>
<circle cx="241.40" cy="249.30" r="1.03" fill="#0f8fd8"/>
<circle cx="230.10" cy="256.10" r="1.03" fill="#0f8fd8"/>
<circle cx="243.50" cy="255.60" r="1.03" fill="#0f8fd8"/>
<circle cx="246.00" cy="258.30" r="1.03" fill="#0f8fd8"/>
<circle cx="241.40" cy="261.10" r="1.03" fill="#0f8fd8"/>
<circle cx="254.20" cy="266.90" r="1.03" fill="#0f8fd8"/>
<circle cx="230.10" cy="269.90" r="1.03" fill="#0f8fd8"/>
<circle cx="174.90" cy="281.80" r="1.03" fill="#0f8fd8"/>
<circle cx="193.90" cy="273.40" r="1.03" fill="#0f8fd8"/>
<circle cx="193.90" cy="286.80" r="1.03" fill="#0f8fd8"/>
<circle cx="197.20" cy="289.60" r="1.03" fill="#0f8fd8"/>
<circle cx="193.90" cy="301.60" r="1.03" fill="#0f8fd8"/>
<line x1="297.6" y1="205.3" x2="543.0" y2="205.3" stroke="#e8e8e8" stroke-width="0.9"/>
<line x1="297.6" y1="218.87" x2="543.0" y2="218.87" stroke="#e8e8e8" stroke-width="0.9"/>
<line x1="297.6" y1="232.44" x2="543.0" y2="232.44" stroke="#e8e8e8" stroke-width="0.9"/>
<line x1="297.6" y1="246.0" x2="543.0" y2="246.0" stroke="#e8e8e8" stroke-width="0.9"/>
<line x1="297.6" y1="259.6" x2="543.0" y2="259.6" stroke="#e8e8e8" stroke-width="0.9"/>
<line x1="297.6" y1="273.2" x2="543.0" y2="273.2" stroke="#e8e8e8" stroke-width="0.9"/>
<line x1="297.6" y1="286.74" x2="543.0" y2="286.74" stroke="#e8e8e8" stroke-width="0.9"/>
<line x1="297.6" y1="300.3" x2="543.0" y2="300.3" stroke="#e8e8e8" stroke-width="0.9"/>
<line x1="305.3" y1="199.0" x2="305.3" y2="305.2" stroke="#e8e8e8" stroke-width="0.9"/>
<line x1="353.65" y1="199.0" x2="353.65" y2="305.2" stroke="#e8e8e8" stroke-width="0.9"/>
<line x1="402.0" y1="199.0" x2="402.0" y2="305.2" stroke="#e8e8e8" stroke-width="0.9"/>
<line x1="450.4" y1="199.0" x2="450.4" y2="305.2" stroke="#e8e8e8" stroke-width="0.9"/>
<line x1="498.7" y1="199.0" x2="498.7" y2="305.2" stroke="#e8e8e8" stroke-width="0.9"/>
<text x="415.90" y="189.20" font-size="5.8" text-anchor="middle" fill="#303030" font-family='"Liberation Sans", sans-serif' textLength="23.00" lengthAdjust="spacingAndGlyphs" stroke="#303030" stroke-width="0.1" >Versus Fits</text>
<text x="419.90" y="196.90" font-size="4.0" text-anchor="middle" fill="#2c2c2c" font-family='"Liberation Sans", sans-serif' textLength="43.60" lengthAdjust="spacingAndGlyphs" stroke="#2c2c2c" stroke-width="0.05" >(response is Cstrength-6in)</text>
<text x="295.80" y="207.25" font-size="4.9" text-anchor="end" fill="#222" font-family='"Liberation Sans", sans-serif' textLength="6.00" lengthAdjust="spacingAndGlyphs" stroke="#222" stroke-width="0.12" >750</text>
<text x="295.80" y="220.82" font-size="4.9" text-anchor="end" fill="#222" font-family='"Liberation Sans", sans-serif' textLength="6.00" lengthAdjust="spacingAndGlyphs" stroke="#222" stroke-width="0.12" >500</text>
<text x="295.80" y="234.39" font-size="4.9" text-anchor="end" fill="#222" font-family='"Liberation Sans", sans-serif' textLength="6.00" lengthAdjust="spacingAndGlyphs" stroke="#222" stroke-width="0.12" >250</text>
<text x="295.80" y="247.95" font-size="4.9" text-anchor="end" fill="#222" font-family='"Liberation Sans", sans-serif' textLength="2.00" lengthAdjust="spacingAndGlyphs" stroke="#222" stroke-width="0.12" >0</text>
<text x="295.80" y="261.55" font-size="4.9" text-anchor="end" fill="#222" font-family='"Liberation Sans", sans-serif' textLength="8.60" lengthAdjust="spacingAndGlyphs" stroke="#222" stroke-width="0.12" >−250</text>
<text x="295.80" y="275.15" font-size="4.9" text-anchor="end" fill="#222" font-family='"Liberation Sans", sans-serif' textLength="8.60" lengthAdjust="spacingAndGlyphs" stroke="#222" stroke-width="0.12" >−500</text>
<text x="295.80" y="288.69" font-size="4.9" text-anchor="end" fill="#222" font-family='"Liberation Sans", sans-serif' textLength="8.60" lengthAdjust="spacingAndGlyphs" stroke="#222" stroke-width="0.12" >−750</text>
<text x="295.80" y="302.25" font-size="4.9" text-anchor="end" fill="#222" font-family='"Liberation Sans", sans-serif' textLength="10.60" lengthAdjust="spacingAndGlyphs" stroke="#222" stroke-width="0.12" >−1000</text>
<text x="305.30" y="310.50" font-size="4.9" text-anchor="middle" fill="#222" font-family='"Liberation Sans", sans-serif' textLength="8.20" lengthAdjust="spacingAndGlyphs" stroke="#222" stroke-width="0.12" >2000</text>
<text x="353.65" y="310.50" font-size="4.9" text-anchor="middle" fill="#222" font-family='"Liberation Sans", sans-serif' textLength="8.20" lengthAdjust="spacingAndGlyphs" stroke="#222" stroke-width="0.12" >3000</text>
<text x="402.00" y="310.50" font-size="4.9" text-anchor="middle" fill="#222" font-family='"Liberation Sans", sans-serif' textLength="8.20" lengthAdjust="spacingAndGlyphs" stroke="#222" stroke-width="0.12" >4000</text>
<text x="450.40" y="310.50" font-size="4.9" text-anchor="middle" fill="#222" font-family='"Liberation Sans", sans-serif' textLength="8.20" lengthAdjust="spacingAndGlyphs" stroke="#222" stroke-width="0.12" >5000</text>
<text x="498.70" y="310.50" font-size="4.9" text-anchor="middle" fill="#222" font-family='"Liberation Sans", sans-serif' textLength="8.20" lengthAdjust="spacingAndGlyphs" stroke="#222" stroke-width="0.12" >6000</text>
<text x="420.10" y="315.60" font-size="4.9" text-anchor="middle" fill="#222" font-family='"Liberation Sans", sans-serif' textLength="23.20" lengthAdjust="spacingAndGlyphs" stroke="#222" stroke-width="0.1" >Fitted Values</text>
<text x="282.30" y="253.00" font-size="4.3" text-anchor="middle" fill="#262626" font-family='"Liberation Sans", sans-serif' textLength="16.80" lengthAdjust="spacingAndGlyphs" transform="rotate(-90 282.30 253.00)" stroke="#262626" stroke-width="0.1" >Residual</text>
<circle cx="308.20" cy="204.00" r="1.03" fill="#0f8fd8"/>
<circle cx="308.20" cy="206.80" r="1.03" fill="#0f8fd8"/>
<circle cx="309.90" cy="207.00" r="1.03" fill="#0f8fd8"/>
<circle cx="310.30" cy="209.40" r="1.03" fill="#0f8fd8"/>
<circle cx="310.60" cy="212.40" r="1.03" fill="#0f8fd8"/>
<circle cx="309.00" cy="210.80" r="1.03" fill="#0f8fd8"/>
<circle cx="309.70" cy="208.10" r="1.03" fill="#0f8fd8"/>
<circle cx="308.50" cy="209.60" r="1.03" fill="#0f8fd8"/>
<circle cx="310.10" cy="210.90" r="1.03" fill="#0f8fd8"/>
<circle cx="309.20" cy="212.20" r="1.03" fill="#0f8fd8"/>
<circle cx="310.40" cy="213.90" r="1.03" fill="#0f8fd8"/>
<circle cx="378.80" cy="207.50" r="1.03" fill="#0f8fd8"/>
<circle cx="378.80" cy="213.90" r="1.03" fill="#0f8fd8"/>
<circle cx="378.80" cy="217.30" r="1.03" fill="#0f8fd8"/>
<circle cx="378.80" cy="218.80" r="1.03" fill="#0f8fd8"/>
<circle cx="372.50" cy="223.90" r="1.03" fill="#0f8fd8"/>
<circle cx="375.70" cy="228.20" r="1.03" fill="#0f8fd8"/>
<circle cx="379.20" cy="233.30" r="1.03" fill="#0f8fd8"/>
<circle cx="396.40" cy="228.90" r="1.03" fill="#0f8fd8"/>
<circle cx="396.40" cy="235.00" r="1.03" fill="#0f8fd8"/>
<circle cx="400.40" cy="233.30" r="1.03" fill="#0f8fd8"/>
<circle cx="419.00" cy="203.20" r="1.03" fill="#0f8fd8"/>
<circle cx="428.30" cy="211.70" r="1.03" fill="#0f8fd8"/>
<circle cx="419.00" cy="224.90" r="1.03" fill="#0f8fd8"/>
<circle cx="419.00" cy="231.10" r="1.03" fill="#0f8fd8"/>
<circle cx="425.30" cy="226.70" r="1.03" fill="#0f8fd8"/>
<circle cx="425.30" cy="228.40" r="1.03" fill="#0f8fd8"/>
<circle cx="425.30" cy="229.90" r="1.03" fill="#0f8fd8"/>
<circle cx="428.30" cy="233.20" r="1.03" fill="#0f8fd8"/>
<circle cx="425.30" cy="235.50" r="1.03" fill="#0f8fd8"/>
<circle cx="430.30" cy="204.40" r="1.03" fill="#0f8fd8"/>
<circle cx="454.50" cy="215.70" r="1.03" fill="#0f8fd8"/>
<circle cx="478.30" cy="219.00" r="1.03" fill="#0f8fd8"/>
<circle cx="483.00" cy="224.50" r="1.03" fill="#0f8fd8"/>
<circle cx="452.00" cy="224.90" r="1.03" fill="#0f8fd8"/>
<circle cx="446.00" cy="228.00" r="1.03" fill="#0f8fd8"/>
<circle cx="466.20" cy="227.40" r="1.03" fill="#0f8fd8"/>
<circle cx="454.50" cy="228.90" r="1.03" fill="#0f8fd8"/>
<circle cx="454.50" cy="230.50" r="1.03" fill="#0f8fd8"/>
<circle cx="470.40" cy="232.00" r="1.03" fill="#0f8fd8"/>
<circle cx="472.70" cy="234.30" r="1.03" fill="#0f8fd8"/>
<circle cx="478.30" cy="234.00" r="1.03" fill="#0f8fd8"/>
<circle cx="449.50" cy="233.20" r="1.03" fill="#0f8fd8"/>
<circle cx="449.50" cy="234.60" r="1.03" fill="#0f8fd8"/>
<circle cx="430.30" cy="231.10" r="1.03" fill="#0f8fd8"/>
<circle cx="431.00" cy="232.60" r="1.03" fill="#0f8fd8"/>
<circle cx="431.10" cy="234.30" r="1.03" fill="#0f8fd8"/>
<circle cx="498.40" cy="221.70" r="1.03" fill="#0f8fd8"/>
<circle cx="495.10" cy="230.10" r="1.03" fill="#0f8fd8"/>
<circle cx="496.30" cy="231.80" r="1.03" fill="#0f8fd8"/>
<circle cx="498.40" cy="234.30" r="1.03" fill="#0f8fd8"/>
<circle cx="505.70" cy="230.10" r="1.03" fill="#0f8fd8"/>
<circle cx="521.00" cy="229.20" r="1.03" fill="#0f8fd8"/>
<circle cx="523.50" cy="231.70" r="1.03" fill="#0f8fd8"/>
<circle cx="352.70" cy="243.30" r="1.03" fill="#0f8fd8"/>
<circle cx="352.70" cy="246.10" r="1.03" fill="#0f8fd8"/>
<circle cx="354.30" cy="246.40" r="1.03" fill="#0f8fd8"/>
<circle cx="354.30" cy="248.90" r="1.03" fill="#0f8fd8"/>
<circle cx="352.70" cy="250.80" r="1.03" fill="#0f8fd8"/>
<circle cx="354.30" cy="253.60" r="1.03" fill="#0f8fd8"/>
<circle cx="352.70" cy="257.30" r="1.03" fill="#0f8fd8"/>
<circle cx="354.30" cy="260.60" r="1.03" fill="#0f8fd8"/>
<circle cx="363.00" cy="260.60" r="1.03" fill="#0f8fd8"/>
<circle cx="364.20" cy="262.10" r="1.03" fill="#0f8fd8"/>
<circle cx="363.00" cy="263.40" r="1.03" fill="#0f8fd8"/>
<circle cx="364.20" cy="265.10" r="1.03" fill="#0f8fd8"/>
<circle cx="363.00" cy="267.80" r="1.03" fill="#0f8fd8"/>
<circle cx="364.20" cy="269.40" r="1.03" fill="#0f8fd8"/>
<circle cx="363.00" cy="274.50" r="1.03" fill="#0f8fd8"/>
<circle cx="364.20" cy="276.30" r="1.03" fill="#0f8fd8"/>
<circle cx="371.00" cy="272.50" r="1.03" fill="#0f8fd8"/>
<circle cx="371.00" cy="275.40" r="1.03" fill="#0f8fd8"/>
<circle cx="371.00" cy="280.10" r="1.03" fill="#0f8fd8"/>
<circle cx="371.00" cy="287.00" r="1.03" fill="#0f8fd8"/>
<circle cx="394.10" cy="236.80" r="1.03" fill="#0f8fd8"/>
<circle cx="396.40" cy="237.60" r="1.03" fill="#0f8fd8"/>
<circle cx="396.40" cy="239.50" r="1.03" fill="#0f8fd8"/>
<circle cx="400.40" cy="239.80" r="1.03" fill="#0f8fd8"/>
<circle cx="407.10" cy="239.80" r="1.03" fill="#0f8fd8"/>
<circle cx="372.50" cy="243.00" r="1.03" fill="#0f8fd8"/>
<circle cx="394.10" cy="243.70" r="1.03" fill="#0f8fd8"/>
<circle cx="400.40" cy="242.30" r="1.03" fill="#0f8fd8"/>
<circle cx="400.40" cy="244.20" r="1.03" fill="#0f8fd8"/>
<circle cx="372.50" cy="247.70" r="1.03" fill="#0f8fd8"/>
<circle cx="375.70" cy="247.10" r="1.03" fill="#0f8fd8"/>
<circle cx="375.70" cy="251.80" r="1.03" fill="#0f8fd8"/>
<circle cx="379.20" cy="251.80" r="1.03" fill="#0f8fd8"/>
<circle cx="379.20" cy="257.10" r="1.03" fill="#0f8fd8"/>
<circle cx="394.10" cy="253.60" r="1.03" fill="#0f8fd8"/>
<circle cx="403.90" cy="246.80" r="1.03" fill="#0f8fd8"/>
<circle cx="405.20" cy="248.10" r="1.03" fill="#0f8fd8"/>
<circle cx="407.10" cy="246.40" r="1.03" fill="#0f8fd8"/>
<circle cx="407.10" cy="249.60" r="1.03" fill="#0f8fd8"/>
<circle cx="407.10" cy="251.10" r="1.03" fill="#0f8fd8"/>
<circle cx="412.90" cy="245.60" r="1.03" fill="#0f8fd8"/>
<circle cx="403.90" cy="254.30" r="1.03" fill="#0f8fd8"/>
<circle cx="405.20" cy="255.60" r="1.03" fill="#0f8fd8"/>
<circle cx="412.90" cy="252.10" r="1.03" fill="#0f8fd8"/>
<circle cx="412.90" cy="255.20" r="1.03" fill="#0f8fd8"/>
<circle cx="412.90" cy="256.80" r="1.03" fill="#0f8fd8"/>
<circle cx="418.00" cy="250.60" r="1.03" fill="#0f8fd8"/>
<circle cx="418.00" cy="256.80" r="1.03" fill="#0f8fd8"/>
<circle cx="418.00" cy="259.90" r="1.03" fill="#0f8fd8"/>
<circle cx="418.00" cy="261.50" r="1.03" fill="#0f8fd8"/>
<circle cx="403.90" cy="264.00" r="1.03" fill="#0f8fd8"/>
<circle cx="405.20" cy="265.30" r="1.03" fill="#0f8fd8"/>
<circle cx="425.40" cy="236.80" r="1.03" fill="#0f8fd8"/>
<circle cx="428.30" cy="239.80" r="1.03" fill="#0f8fd8"/>
<circle cx="428.30" cy="257.70" r="1.03" fill="#0f8fd8"/>
<circle cx="428.30" cy="268.60" r="1.03" fill="#0f8fd8"/>
<circle cx="431.20" cy="235.70" r="1.03" fill="#0f8fd8"/>
<circle cx="430.60" cy="241.40" r="1.03" fill="#0f8fd8"/>
<circle cx="431.50" cy="242.30" r="1.03" fill="#0f8fd8"/>
<circle cx="449.50" cy="239.20" r="1.03" fill="#0f8fd8"/>
<circle cx="477.10" cy="238.90" r="1.03" fill="#0f8fd8"/>
<circle cx="483.00" cy="239.40" r="1.03" fill="#0f8fd8"/>
<circle cx="455.40" cy="238.90" r="1.03" fill="#0f8fd8"/>
<circle cx="456.10" cy="240.50" r="1.03" fill="#0f8fd8"/>
<circle cx="466.20" cy="240.20" r="1.03" fill="#0f8fd8"/>
<circle cx="466.20" cy="241.70" r="1.03" fill="#0f8fd8"/>
<circle cx="466.20" cy="243.00" r="1.03" fill="#0f8fd8"/>
<circle cx="442.60" cy="242.70" r="1.03" fill="#0f8fd8"/>
<circle cx="442.60" cy="244.20" r="1.03" fill="#0f8fd8"/>
<circle cx="442.60" cy="245.60" r="1.03" fill="#0f8fd8"/>
<circle cx="455.40" cy="244.50" r="1.03" fill="#0f8fd8"/>
<circle cx="456.40" cy="245.60" r="1.03" fill="#0f8fd8"/>
<circle cx="470.80" cy="244.50" r="1.03" fill="#0f8fd8"/>
<circle cx="470.80" cy="246.10" r="1.03" fill="#0f8fd8"/>
<circle cx="470.80" cy="247.70" r="1.03" fill="#0f8fd8"/>
<circle cx="471.40" cy="243.90" r="1.03" fill="#0f8fd8"/>
<circle cx="472.90" cy="247.70" r="1.03" fill="#0f8fd8"/>
<circle cx="472.90" cy="249.20" r="1.03" fill="#0f8fd8"/>
<circle cx="472.90" cy="250.60" r="1.03" fill="#0f8fd8"/>
<circle cx="446.00" cy="249.30" r="1.03" fill="#0f8fd8"/>
<circle cx="442.60" cy="252.50" r="1.03" fill="#0f8fd8"/>
<circle cx="452.20" cy="251.40" r="1.03" fill="#0f8fd8"/>
<circle cx="446.00" cy="255.80" r="1.03" fill="#0f8fd8"/>
<circle cx="477.10" cy="252.10" r="1.03" fill="#0f8fd8"/>
<circle cx="477.10" cy="253.60" r="1.03" fill="#0f8fd8"/>
<circle cx="477.10" cy="255.00" r="1.03" fill="#0f8fd8"/>
<circle cx="471.70" cy="255.80" r="1.03" fill="#0f8fd8"/>
<circle cx="474.60" cy="259.00" r="1.03" fill="#0f8fd8"/>
<circle cx="490.30" cy="254.60" r="1.03" fill="#0f8fd8"/>
<circle cx="490.30" cy="267.40" r="1.03" fill="#0f8fd8"/>
<circle cx="490.30" cy="269.00" r="1.03" fill="#0f8fd8"/>
<circle cx="490.30" cy="270.40" r="1.03" fill="#0f8fd8"/>
<circle cx="471.60" cy="271.00" r="1.03" fill="#0f8fd8"/>
<circle cx="427.80" cy="257.70" r="1.03" fill="#0f8fd8"/>
<circle cx="429.80" cy="260.20" r="1.03" fill="#0f8fd8"/>
<circle cx="430.30" cy="261.50" r="1.03" fill="#0f8fd8"/>
<circle cx="432.50" cy="262.10" r="1.03" fill="#0f8fd8"/>
<circle cx="434.00" cy="263.40" r="1.03" fill="#0f8fd8"/>
<circle cx="436.90" cy="265.90" r="1.03" fill="#0f8fd8"/>
<circle cx="438.20" cy="267.10" r="1.03" fill="#0f8fd8"/>
<circle cx="429.80" cy="270.70" r="1.03" fill="#0f8fd8"/>
<circle cx="432.00" cy="272.50" r="1.03" fill="#0f8fd8"/>
<circle cx="433.90" cy="274.20" r="1.03" fill="#0f8fd8"/>
<circle cx="437.00" cy="277.00" r="1.03" fill="#0f8fd8"/>
<circle cx="438.20" cy="278.20" r="1.03" fill="#0f8fd8"/>
<circle cx="501.00" cy="237.00" r="1.03" fill="#0f8fd8"/>
<circle cx="495.10" cy="239.20" r="1.03" fill="#0f8fd8"/>
<circle cx="496.30" cy="240.80" r="1.03" fill="#0f8fd8"/>
<circle cx="505.70" cy="242.90" r="1.03" fill="#0f8fd8"/>
<circle cx="501.00" cy="245.80" r="1.03" fill="#0f8fd8"/>
<circle cx="518.90" cy="243.90" r="1.03" fill="#0f8fd8"/>
<circle cx="532.10" cy="237.40" r="1.03" fill="#0f8fd8"/>
<circle cx="507.60" cy="252.50" r="1.03" fill="#0f8fd8"/>
<circle cx="521.00" cy="250.60" r="1.03" fill="#0f8fd8"/>
<circle cx="523.50" cy="252.70" r="1.03" fill="#0f8fd8"/>
<circle cx="518.90" cy="256.80" r="1.03" fill="#0f8fd8"/>
<circle cx="532.10" cy="258.70" r="1.03" fill="#0f8fd8"/>
<circle cx="507.60" cy="267.70" r="1.03" fill="#0f8fd8"/>
<circle cx="452.10" cy="281.90" r="1.03" fill="#0f8fd8"/>
<circle cx="471.50" cy="285.40" r="1.03" fill="#0f8fd8"/>
<circle cx="474.00" cy="288.30" r="1.03" fill="#0f8fd8"/>
<circle cx="471.50" cy="301.80" r="1.03" fill="#0f8fd8"/>
<text x="138.50" y="180.30" font-size="11" text-anchor="middle" fill="#111" font-family='"Liberation Serif", serif' stroke="#111" stroke-width="0.18" >(a)</text>
<text x="415.00" y="180.30" font-size="11" text-anchor="middle" fill="#111" font-family='"Liberation Serif", serif' stroke="#111" stroke-width="0.18" >(e)</text>
</g>
</svg>
</body>
</html>
